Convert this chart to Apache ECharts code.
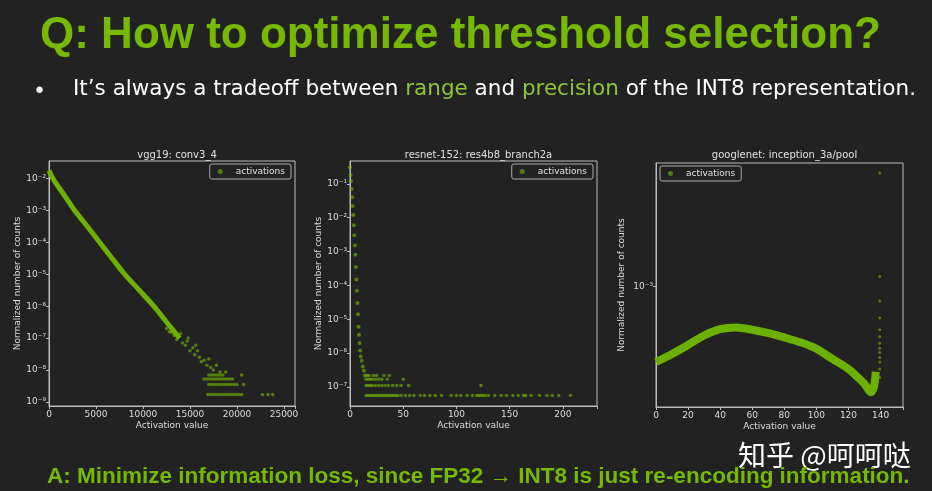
<!DOCTYPE html>
<html>
<head>
<meta charset="utf-8">
<script src="https://cdn.jsdelivr.net/npm/echarts@6/dist/echarts.min.js"></script>
<style>
  html, body { margin: 0; padding: 0; background: #222222; }
  #main { width: 932px; height: 491px; }
</style>
</head>
<body>
<div id="main"></div>
<script>
// vgg19 conv3_4: dense band read along the curve, then the noisy tail
const vggCurve = [[0, 1.8e-2], [426, 1e-2], [1000, 5.6e-3], [2000, 2.1e-3], [2734, 1e-3], [4000, 3.4e-4],
  [5400, 1e-4], [6700, 3.2e-5], [8060, 1e-5], [9600, 3.2e-6], [11150, 1e-6], [12500, 3.2e-7], [13900, 1e-7]];
const vggTail = [[12500, 2e-7], [12800, 1.6e-7], [13000, 1.5e-7], [13300, 1.2e-7], [13600, 9e-8], [14000, 1.4e-7],
  [14200, 7e-8], [14500, 6e-8], [14700, 8e-8], [14800, 1e-7], [15000, 4e-8], [15300, 5e-8], [15500, 3e-8],
  [15800, 4e-8], [16000, 2.5e-8], [16200, 1.8e-8], [16500, 2e-8], [16800, 1.4e-8], [17200, 1.2e-8],
  [17500, 1e-8], [17800, 1.4e-8], [18200, 8.6e-9], [18800, 8.6e-9], [17000, 2.2e-8], [15600, 6e-8]];
const vggRow1 = [16900, 17200, 17500, 17800, 18100, 18400, 18700, 19000, 19300, 19600, 19900, 20200, 20500, 22700, 23300, 23800];
const vggRow2 = [17000, 17300, 17600, 17900, 18200, 18500, 18800, 19100, 19400, 19700, 20000, 20700];
const vggRow3 = [16500, 16800, 17100, 17400, 17700, 18000, 18300, 18600, 18900, 19200, 19500];
const vggRow4 = [17000, 17300, 17600, 17900, 18200, 18500, 20500];

// resnet-152 res4b8_branch2a
const resHead = [[0, 0.3], [0.5, 0.18], [1, 0.12], [1.5, 0.07], [2, 0.04], [2.5, 0.022], [3, 0.012], [3.5, 6e-3],
  [4, 3e-3], [4.5, 1.5e-3], [5, 8e-4], [5.5, 3.5e-4], [6, 1.5e-4], [6.5, 7e-5], [7, 3e-5], [7.5, 1.4e-5],
  [8, 6e-6], [8.5, 3.5e-6], [9, 2e-6], [9.5, 1.2e-6], [10, 8e-7], [11, 6e-7], [12, 4e-7], [13, 3e-7], [14, 2.2e-7]];
const resRow1 = [15, 17, 19, 21, 23, 25, 27, 29, 31, 33, 35, 37, 39, 41, 43, 45, 48, 52, 56, 60, 66, 70, 75, 80, 86,
  95, 100, 104, 110, 115, 119, 121, 123, 125, 127, 130, 136, 142, 147, 153, 158, 163, 165, 170, 178, 185, 190, 196, 207];
const resRow2 = [15, 17, 19, 21, 24, 27, 30, 33, 36, 40, 44, 48, 55, 123];
const resRow3 = [15, 17, 19, 21, 24, 27, 30, 35, 50];
const resRow4 = [16, 18, 22, 25, 32, 37];

// googlenet inception_3a/pool
const gooCurve = [[0, 3.98e-4], [10, 4.39e-4], [20, 4.9e-4], [30, 5.5e-4], [40, 5.94e-4], [50, 6.06e-4],
  [60, 5.9e-4], [70, 5.66e-4], [80, 5.37e-4], [90, 5.06e-4], [100, 4.68e-4], [110, 4.13e-4], [120, 3.66e-4],
  [125, 3.35e-4], [130, 3.05e-4], [134, 2.75e-4], [136, 2.98e-4], [137, 3.53e-4]];
const gooSpike = [3.98e-3, 1.13e-3, 8.38e-4, 6.8e-4, 5.9e-4, 5.43e-4, 5.0e-4, 4.7e-4, 4.47e-4, 4.2e-4, 3.98e-4, 3.66e-4, 3.3e-4];

const green = '#76b900';
const sup = { '-': '⁻', '0': '⁰', '1': '¹', '2': '²', '3': '³', '4': '⁴', '5': '⁵', '6': '⁶', '7': '⁷', '8': '⁸', '9': '⁹' };
function powLabel(v) {
  const e = Math.log10(v);
  const r = Math.round(e);
  if (Math.abs(e - r) > 1e-6) return '';
  return '10' + String(r).split('').map(c => sup[c]).join('');
}
function row(xs, y) { return xs.map(x => [x, y]); }

const grids = [
  { left: 49, top: 161, width: 246, height: 245 },
  { left: 350, top: 161, width: 247, height: 245 },
  { left: 656, top: 163, width: 247, height: 244 }
];
const xCfg = [[0, 26170, 5000], [0, 232, 50], [0, 154, 20]];
const yCfg = [[7.4e-10, 3.6e-2, 8], [2.75e-8, 0.47, 7], [2.3e-4, 4.5e-3, 1]];
const names = ['vgg19: conv3_4', 'resnet-152: res4b8_branch2a', 'googlenet: inception_3a/pool'];

const chart = echarts.init(document.getElementById('main'));
const axisTxt = { color: '#dddddd', fontSize: 9, fontFamily: 'DejaVu Sans' };
const bodyTxt = { fontSize: 21.5, fontWeight: 'normal', fontFamily: 'DejaVu Sans' };

const option = {
  backgroundColor: '#222222',
  animation: false,
  title: [
    { text: 'Q: How to optimize threshold selection?', left: 35, top: 9,
      textStyle: { color: green, fontSize: 44, fontWeight: 'bold', fontFamily: 'Liberation Sans' } },
    { text: '●', left: 30, top: 77, textStyle: { color: '#ffffff', fontSize: 15 } },
    { text: '{w|It’s always a tradeoff between }{g|range}{w| and }{g|precision}{w| of the INT8 representation.}',
      left: 68, top: 73,
      textStyle: { rich: {
        w: Object.assign({ color: '#ffffff' }, bodyTxt),
        g: Object.assign({ color: '#8cc43c' }, bodyTxt) } } },
    { text: '知乎 @呵呵哒', left: 733, top: 436,
      textStyle: { color: '#ffffff', fontSize: 28, fontWeight: 'normal', fontFamily: 'Noto Sans CJK SC' } },
    { text: 'A: Minimize information loss, since FP32 → INT8 is just re-encoding information.', left: 42, top: 460,
      textStyle: { color: green, fontSize: 22.5, fontWeight: 'bold', fontFamily: 'Liberation Sans' } }
  ].concat(grids.map((g, i) => ({
    text: names[i], left: g.left + g.width / 2, top: 145, textAlign: 'center',
    textStyle: { color: '#e0e0e0', fontSize: 10, fontWeight: 'normal', fontFamily: 'DejaVu Sans' }
  }))),
  legend: grids.map((g, i) => ({
    data: ['activations'],
    left: i === 2 ? g.left + 4 : undefined,
    right: i === 2 ? undefined : 932 - g.left - g.width + 4,
    top: g.top + 3,
    orient: 'vertical',
    icon: 'circle', itemWidth: 5, itemHeight: 5, itemGap: 4,
    padding: [3, 6, 3, 8],
    borderColor: '#aaaaaa', borderWidth: 1, borderRadius: 2,
    textStyle: { color: '#e0e0e0', fontSize: 9, fontFamily: 'DejaVu Sans', padding: [0, 0, 0, 8] }
  })),
  grid: grids.map(g => Object.assign({ show: true, borderColor: '#bbbbbb', borderWidth: 1, backgroundColor: 'transparent' }, g)),
  xAxis: xCfg.map((c, i) => ({
    type: 'value', gridIndex: i, min: c[0], max: c[1], interval: c[2],
    name: 'Activation value', nameLocation: 'middle', nameGap: 15, nameTextStyle: axisTxt,
    axisLine: { lineStyle: { color: '#bbbbbb' } },
    axisTick: { length: 3, lineStyle: { color: '#bbbbbb' } },
    axisLabel: Object.assign({ margin: 4, formatter: v => (v % c[2] !== 0 ? '' : v) }, axisTxt),
    splitLine: { show: false }
  })),
  yAxis: yCfg.map((c, i) => ({
    type: 'log', logBase: 10, gridIndex: i, min: c[0], max: c[1], splitNumber: c[2],
    name: 'Normalized number of counts', nameLocation: 'middle', nameGap: i === 2 ? 30 : 27,
    nameTextStyle: axisTxt,
    axisLine: { lineStyle: { color: '#bbbbbb' } },
    axisTick: { length: 3, lineStyle: { color: '#bbbbbb' } },
    axisLabel: Object.assign({ margin: 3, formatter: powLabel, showMinLabel: false, showMaxLabel: false }, axisTxt),
    splitLine: { show: false }
  })),
  series: []
};

function scat(i, data, size) {
  option.series.push({
    name: 'activations', type: 'scatter', xAxisIndex: i, yAxisIndex: i, data: data,
    symbolSize: size || 3.5, itemStyle: { color: green, opacity: 0.6 }
  });
}
function band(i, data, w) {
  option.series.push({
    name: 'band', type: 'line', xAxisIndex: i, yAxisIndex: i, data: data, smooth: 0.3,
    showSymbol: false, lineStyle: { color: '#6cb000', width: w }
  });
}

scat(0, vggTail);
band(0, vggCurve, 5);
scat(0, row(vggRow1, 1.7e-9));
scat(0, row(vggRow2, 3.5e-9));
scat(0, row(vggRow3, 5.2e-9));
scat(0, row(vggRow4, 6.9e-9));

scat(1, resHead, 4);
scat(1, row(resRow1, 5.6e-8));
scat(1, row(resRow2, 1.1e-7));
scat(1, row(resRow3, 1.7e-7));
scat(1, row(resRow4, 2.2e-7));

band(2, gooCurve, 8);
scat(2, gooSpike.map(v => [139.5, v]), 3);

chart.setOption(option);
window.addEventListener('resize', function() { chart.resize(); });
</script>
</body>
</html>
